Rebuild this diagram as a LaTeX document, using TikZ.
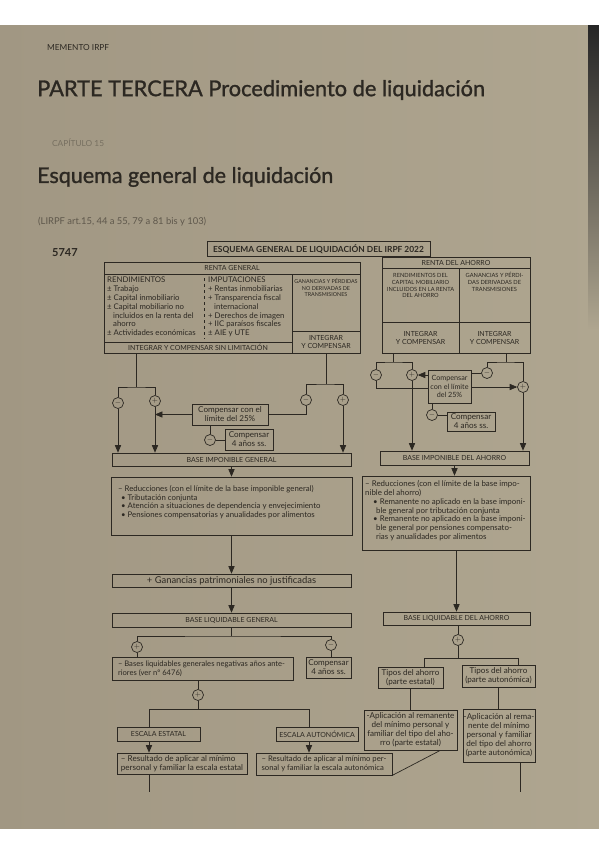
\documentclass[tikz,border=0pt]{standalone}
\usepackage{fontspec}
\setmainfont{Lato}
\newfontfamily\gruesa[FakeBold=1.2]{Lato}
\usetikzlibrary{arrows}
\usetikzlibrary{positioning}
\definecolor{papel}{HTML}{AFA690}
\definecolor{papelosc}{HTML}{A19783}
\definecolor{tinta}{HTML}{2C2822}
\definecolor{gris}{HTML}{5E574B}
\tikzset{caja/.style = {draw = tinta, line width = 0.7, inner sep = 0, text = tinta}}
\tikzset{signo/.style = {draw = tinta, line width = 0.7, circle, inner sep = 0, minimum size = 11, text = tinta, font = \fontsize{7}{7}\selectfont}}
\tikzset{flecha/.style = {draw = tinta, line width = 0.7, -triangle 45}}
\tikzset{linea/.style = {draw = tinta, line width = 0.7}}
\tikzset{mayus/.style = {text = tinta, align = center, font = \fontsize{7}{8}\selectfont}}
\tikzset{menudo/.style = {text = tinta, align = center, font = \fontsize{5.4}{6.5}\selectfont}}
\tikzset{nota/.style = {text = tinta, align = center, font = \fontsize{8.1}{9}\selectfont}}
\tikzset{texto/.style = {text = tinta, align = left, anchor = north west, inner sep = 0, font = \fontsize{7.8}{8.8}\selectfont}}

\begin{document}
\begin{tikzpicture}[x = 1pt, y = -1pt]
    \useasboundingbox (0, 0) rectangle (599, 848);
    \fill [white] (0, 0) rectangle (599, 848);
    \shade [left color = papelosc, right color = papel] (0, 26) rectangle (599, 828);
    \shade [top color = black!85, bottom color = papel] (588, 26) rectangle (599, 330);

    % cabecera de la pagina
    \node [anchor = west, inner sep = 0, text = tinta, font = \fontsize{8.3}{8.3}\selectfont] (memento) at (47, 48) {MEMENTO IRPF};
    \node [anchor = west, inner sep = 0, text = tinta, font = \gruesa\fontsize{21.8}{21.8}\selectfont] (parte) at (37, 90) {PARTE TERCERA Procedimiento de liquidación};
    \node [anchor = west, inner sep = 0, text = gris!70!papel, font = \fontsize{8.3}{8.3}\selectfont] (capitulo) at (52, 143) {CAPÍTULO 15};
    \node [anchor = west, inner sep = 0, text = tinta, font = \gruesa\fontsize{21.5}{21.5}\selectfont] (esquema) at (37, 177) {Esquema general de liquidación};
    \node [anchor = west, inner sep = 0, text = gris, font = \fontsize{9.4}{9.4}\selectfont] (lirpf) at (38, 222) {(LIRPF art.15, 44 a 55, 79 a 81 bis y 103)};
    \node [anchor = west, inner sep = 0, text = tinta, font = \bfseries\fontsize{11}{11}\selectfont] (num) at (52, 253) {5747};
    \node [caja, minimum width = 223, minimum height = 15, font = \bfseries\fontsize{8.4}{8.4}\selectfont] (titulo) at (318.5, 249) {ESQUEMA GENERAL DE LIQUIDACIÓN DEL IRPF 2022};

    % renta general
    \node [caja, mayus, minimum width = 256, minimum height = 12] (rg) at (232, 268) {RENTA GENERAL};
    \node [caja, minimum width = 188, minimum height = 68] (rend) at (198, 308) {};
    \node [caja, minimum width = 68, minimum height = 57] (gan) at (326, 302.5) {};
    \node [caja, mayus, minimum width = 188, minimum height = 11] (icsl) at (198, 347.5) {INTEGRAR Y COMPENSAR SIN LIMITACIÓN};
    \node [caja, mayus, minimum width = 68, minimum height = 22] (icg) at (326, 342) {INTEGRAR\\Y COMPENSAR};
    \draw [linea, dashed, line width = 0.5] (204, 278) -- (204, 339);
    \node [texto] (rendtxt) at (107, 277) {RENDIMIENTOS\\± Trabajo\\± Capital inmobiliario\\± Capital mobiliario no\\\hspace*{6pt}incluidos en la renta del\\\hspace*{6pt}ahorro\\± Actividades económicas};
    \node [texto] (imputxt) at (208, 277) {IMPUTACIONES\\+ Rentas inmobiliarias\\+ Transparencia fiscal\\\hspace*{6pt}internacional\\+ Derechos de imagen\\+ IIC paraísos fiscales\\± AIE y UTE};
    \node [menudo, anchor = north] (gantxt) at (326, 275) {GANANCIAS Y PÉRDIDAS\\NO DERIVADAS DE\\TRANSMISIONES};

    % renta del ahorro
    \node [caja, mayus, minimum width = 148, minimum height = 11] (ra) at (456, 262.5) {RENTA DEL AHORRO};
    \node [caja, minimum width = 77, minimum height = 54] (rcm) at (420.5, 295) {};
    \node [caja, minimum width = 71, minimum height = 54] (gpd) at (494.5, 295) {};
    \node [menudo, anchor = north, font = \fontsize{5.7}{6.7}\selectfont] (rcmtxt) at (420.5, 270) {RENDIMIENTOS DEL\\CAPITAL MOBILIARIO\\INCLUIDOS EN LA RENTA\\DEL AHORRO};
    \node [menudo, anchor = north, font = \fontsize{5.7}{6.7}\selectfont] (gpdtxt) at (494.5, 269) {GANANCIAS Y PÉRDI-\\DAS DERIVADAS DE\\TRANSMISIONES};
    \node [caja, mayus, minimum width = 77, minimum height = 31] (icr1) at (420.5, 337.5) {INTEGRAR\\Y COMPENSAR};
    \node [caja, mayus, minimum width = 71, minimum height = 31] (icr2) at (494.5, 337.5) {INTEGRAR\\Y COMPENSAR};

    % base imponible general
    \node [caja, mayus, minimum width = 239, minimum height = 13] (big) at (231.5, 459.5) {BASE IMPONIBLE GENERAL};
    \coordinate (jl) at (136, 387);
    \coordinate (jr) at (326, 384);
    \node [signo] (m1) at (118, 403) {$-$};
    \node [signo] (p1) at (155, 401) {$+$};
    \node [signo] (m2) at (306, 400) {$-$};
    \node [signo] (p2) at (343, 400) {$+$};
    \node [caja, nota, minimum width = 76, minimum height = 21] (comp1) at (230, 414.5) {Compensar con el\\límite del 25\%};
    \node [signo] (m3) at (210, 440) {$-$};
    \node [caja, nota, minimum width = 48, minimum height = 21] (comp2) at (249, 439.5) {Compensar\\4 años ss.};
    \draw [linea] (icsl.south -| jl) -- (jl);
    \draw [linea] (m1) |- (jl) -| (p1);
    \draw [linea] (icg.south -| jr) -- (jr);
    \draw [linea] (m2) |- (jr) -| (p2);
    \draw [linea] (m2) |- (comp1.east);
    \draw [flecha] (comp1.west) -- (comp1.west -| p1);
    \draw [linea] (comp1.south -| m3) -- (m3);
    \draw [linea] (m3) -- (comp2.west |- m3);
    \draw [flecha] (m1) -- (m1 |- big.north);
    \draw [flecha] (p1) -- (p1 |- big.north);
    \draw [flecha] (p2) -- (p2 |- big.north);

    % base imponible del ahorro
    \node [caja, mayus, minimum width = 149, minimum height = 14] (bia) at (454.5, 458) {BASE IMPONIBLE DEL AHORRO};
    \coordinate (ja) at (393, 362);
    \coordinate (jb) at (506, 362);
    \node [signo] (m5) at (376, 375) {$-$};
    \node [signo] (p5) at (412, 375) {$+$};
    \node [signo] (m6) at (487, 373) {$-$};
    \node [signo] (p6) at (523, 387) {$+$};
    \node [caja, nota, minimum width = 43, minimum height = 33, font = \fontsize{7.2}{8.6}\selectfont] (comp4) at (449.5, 386.5) {Compensar\\con el límite\\del 25\%};
    \node [signo] (m7) at (432, 415) {$-$};
    \node [caja, nota, minimum width = 48, minimum height = 19] (comp5) at (471, 421.5) {Compensar\\4 años ss.};
    \draw [linea] (icr1.south -| ja) -- (ja);
    \draw [linea] (m5) |- (ja) -| (p5);
    \draw [linea] (icr2.south -| jb) -- (jb);
    \draw [linea] (m6) |- (jb) -| (p6);
    \draw [linea] (m5) |- ([yshift = -1.5pt] comp4.west);
    \draw [flecha] (comp4.west |- p5) -- (p5);
    \draw [linea] (m6) -- (comp4.east |- m6);
    \draw [flecha] (comp4.east |- p6) -- (p6);
    \draw [linea] (comp4.south -| m7) -- (m7);
    \draw [linea] (m7) -- (comp5.west |- m7);
    \draw [flecha] (p5) -- (p5 |- bia.north);
    \draw [flecha] (p6) -- (p6 |- bia.north);

    % reducciones
    \node [caja, minimum width = 241, minimum height = 58] (red1) at (231.5, 506) {};
    \node [texto] (red1txt) at (118, 485) {– Reducciones (con el límite de la base imponible general)\\\hspace*{3pt}\textbullet\ Tributación conjunta\\\hspace*{3pt}\textbullet\ Atención a situaciones de dependencia y envejecimiento\\\hspace*{3pt}\textbullet\ Pensiones compensatorias y anualidades por alimentos};
    \node [caja, minimum width = 168, minimum height = 74] (red2) at (446, 513) {};
    \node [texto, font = \fontsize{7.9}{8.9}\selectfont] (red2txt) at (365, 480) {– Reducciones (con el límite de la base impo-\\nible del ahorro)\\\hspace*{8pt}\textbullet\ Remanente no aplicado en la base imponi-\\\hspace*{11pt}ble general por tributación conjunta\\\hspace*{8pt}\textbullet\ Remanente no aplicado en la base imponi-\\\hspace*{11pt}ble general por pensiones compensato-\\\hspace*{11pt}rias y anualidades por alimentos};
    \draw [flecha] (big.south) -- (red1.north);
    \draw [flecha] (bia.south) -- (bia.south |- red2.north);

    % base liquidable general
    \node [caja, minimum width = 239, minimum height = 13, text = tinta, font = \fontsize{9.4}{9.4}\selectfont] (gpnj) at (231.5, 580.5) {+ Ganancias patrimoniales no justificadas};
    \node [caja, mayus, minimum width = 239, minimum height = 14] (blg) at (231.5, 620) {BASE LIQUIDABLE GENERAL};
    \draw [flecha] (red1.south) -- (gpnj.north);
    \draw [flecha] (gpnj.south) -- (blg.north);
    \coordinate (j3) at (231.5, 636);
    \node [signo] (p3) at (137, 647) {$+$};
    \node [signo] (m4) at (331, 645) {$-$};
    \node [caja, nota, align = left, minimum width = 181, minimum height = 23, font = \fontsize{7.6}{8.8}\selectfont] (bneg) at (202.5, 668.5) {– Bases liquidables generales negativas años ante-\\riores (ver nº 6476)\hspace*{105pt}};
    \node [caja, nota, minimum width = 45, minimum height = 21] (comp3) at (328.5, 667.5) {Compensar\\4 años ss.};
    \draw [linea] (blg.south) -- (j3);
    \draw [linea] (p3) |- (j3) -| (m4);
    \draw [linea] (p3) -- (p3 |- bneg.north);
    \draw [linea] (m4) -- (m4 |- comp3.north);
    \node [signo] (p4) at (198, 695) {$+$};
    \coordinate (l4) at (149, 709);
    \coordinate (r4) at (309, 709);
    \node [caja, mayus, minimum width = 83, minimum height = 14] (ee) at (158.5, 734) {ESCALA ESTATAL};
    \node [caja, mayus, minimum width = 82, minimum height = 14] (ea) at (317, 734) {ESCALA AUTONÓMICA};
    \draw [linea] (bneg.south -| p4) -- (p4);
    \draw [linea] (p4) -- (p4 |- l4);
    \draw [linea] (l4) -- (r4);
    \draw [linea] (l4) -- (l4 |- ee.north);
    \draw [linea] (r4) -- (r4 |- ea.north);
    \node [caja, nota, align = left, minimum width = 130, minimum height = 21] (rest) at (182, 763.5) {– Resultado de aplicar al mínimo\\personal y familiar la escala estatal};
    \node [caja, nota, align = left, minimum width = 136, minimum height = 22, font = \fontsize{7.7}{9}\selectfont] (resa) at (324, 764) {– Resultado de aplicar al mínimo per-\\sonal y familiar la escala autonómica};
    \draw [flecha] (ee.south -| l4) -- (rest.north -| l4);
    \draw [flecha] (ea.south -| r4) -- (resa.north -| r4);
    \coordinate (t1) at (149, 792);
    \draw [linea] (rest.south -| t1) -- (t1);

    % base liquidable del ahorro
    \node [caja, mayus, minimum width = 147, minimum height = 13] (bla) at (456.5, 618.5) {BASE LIQUIDABLE DEL AHORRO};
    \draw [flecha] (red2.south -| bla.north) -- (bla.north);
    \node [signo] (p7) at (458, 640) {$+$};
    \coordinate (l5) at (424, 658);
    \coordinate (r5) at (518, 658);
    \node [caja, nota, minimum width = 65, minimum height = 21] (tae) at (410.5, 677.5) {Tipos del ahorro\\(parte estatal)};
    \node [caja, nota, minimum width = 73, minimum height = 22] (taa) at (498.5, 676) {Tipos del ahorro\\(parte autonómica)};
    \draw [linea] (bla.south -| p7) -- (p7);
    \draw [linea] (p7) -- (p7 |- l5);
    \draw [linea] (l5) -- (r5);
    \draw [linea] (l5) -- (l5 |- tae.north);
    \draw [linea] (r5) -- (r5 |- taa.north);
    \node [caja, nota, minimum width = 93, minimum height = 40] (aple) at (410.5, 730) {-Aplicación al remanente\\del mínimo personal y\\familiar del tipo del aho-\\rro (parte estatal)};
    \node [caja, nota, minimum width = 72, minimum height = 53] (apla) at (499, 735.5) {-Aplicación al rema-\\nente del mínimo\\personal y familiar\\del tipo del ahorro\\(parte autonómica)};
    \draw [linea] (tae.south) -- (tae.south |- aple.north);
    \draw [linea] (taa.south) -- (taa.south |- apla.north);
    \coordinate (t3) at (520, 792);
    \draw [linea] (apla.south -| t3) -- (t3);
    \draw [linea] ([xshift = -17pt] aple.south east) -- (resa.south east);
\end{tikzpicture}
\end{document}
